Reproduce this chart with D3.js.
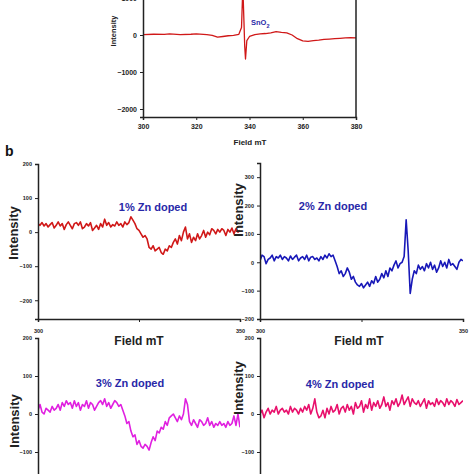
<!DOCTYPE html>
<html><head><meta charset="utf-8">
<script src="https://cdn.jsdelivr.net/npm/d3@7"></script>
<style>
body{margin:0;background:#fff}
text{font-family:"Liberation Sans",Arial,sans-serif;font-weight:bold}
</style></head>
<body><svg id="chart" width="474" height="474"></svg>
<script>
// SnO2 spectrum, [field mT, intensity]
const sno2 = [[300,10],[304,20],[308,15],[310,30],[314,10],[318,20],[320,30],[324,10],[326,-10],[328,-60],[330,-40],[332,-20],[334,-10],[336,20],[337,200],[337.5,1300],[337.9,400],[338.2,-300],[338.5,-650],[339,-150],[340,-40],[342,10],[344,30],[346,40],[348,60],[350,90],[352,70],[354,60],[356,0],[358,-100],[360,-160],[362,-170],[364,-150],[366,-140],[368,-120],[370,-110],[372,-100],[374,-90],[376,-80],[378,-70],[380,-80]];
// doped spectra sampled every 0.5 mT from 300 to 350
const fieldStart = 300, fieldStep = 0.5;
const zn1 = [25,20,28,18,25,15,22,28,12,20, 30,18,25,8,22,30,20,10,25,28, 20,30,10,15,25,18,28,5,12,20,
  8,25,15,38,20,28,15,22,18,30, 20,25,15,30,22,28,45,35,25,10, 5,-5,-15,-10,-20,-45,-50,-40,-55,-50,
  -45,-60,-65,-50,-55,-40,-45,-30,-20,-35, -10,-25,0,15,-20,-5,-30,-15,-25,-5, -20,-10,5,-15,0,-8,10,5,-5,8,
  0,10,5,-10,8,0,12,-5,10,0, 5];
const zn2 = [5,25,20,-5,10,15,25,5,20,15, 25,10,20,15,5,22,10,18,25,5, 15,20,10,25,5,18,20,10,15,5,
  20,10,25,15,30,20,25,5,-15,-40, -30,-50,-40,-20,-35,-60,-50,-70,-80,-85, -75,-90,-80,-70,-85,-65,-75,-50,-70,-60,
  -40,-55,-30,-50,-20,-30,-10,5,-20,-5, 0,20,150,40,-110,-60,-30,-40,-10,-25, -15,-30,-5,-20,0,-25,-10,-35,-20,5,
  -15,0,-20,10,-10,-5,-15,-25,0,10, 5];
const zn3 = [10,25,5,0,15,10,5,20,10,15, 25,10,30,20,35,25,30,15,35,20, 30,10,25,20,35,15,30,25,10,20,
  30,35,25,40,20,30,15,25,35,30, 20,25,10,-5,-25,-20,-45,-60,-55,-80, -70,-85,-90,-80,-85,-95,-75,-60,-70,-45,
  -50,-35,-40,-20,-30,-10,-5,0,-10,-20, -5,-15,0,40,25,-20,-30,-15,-25,-35, -15,-20,-30,-25,-10,-30,-20,-35,-25,-30,
  -20,-30,-25,-35,-20,-30,-25,-5,-30,0, -35];
const zn4 = [0,10,-10,5,15,0,10,5,20,0, 10,15,5,10,0,20,5,15,10,0, 15,5,20,10,25,0,15,40,5,-10,
  -5,10,-10,15,0,20,5,10,25,0, 15,20,5,25,10,20,0,30,15,20, 35,5,25,15,40,10,30,20,35,15,
  25,45,20,30,10,35,25,40,20,30, 50,25,35,45,20,40,30,25,35,20, 30,40,15,35,25,30,20,40,25,35,
  30,20,40,25,35,30,20,38,25,30, 35];
const topXTicks = [300,320,340,360,380];
const topYTicks = [-2000,-1000,0,1000];

const svg = d3.select('#chart');
let clipId = 0;

function panel(o) {
  const x = d3.scaleLinear().domain(o.xDomain).range([o.x0, o.x1]);
  const y = d3.scaleLinear().domain(o.yDomain).range([o.y1, o.y0]);
  const g = svg.append('g');
  const id = 'clip' + (clipId++);
  g.append('clipPath').attr('id', id).append('rect')
    .attr('x', o.x0).attr('y', o.y0).attr('width', o.x1 - o.x0).attr('height', o.y1 - o.y0);
  g.append('path').datum(o.data).attr('clip-path', `url(#${id})`)
    .attr('d', d3.line().x((d) => x(d[0])).y((d) => y(d[1])))
    .attr('fill', 'none').attr('stroke', o.color).attr('stroke-width', o.lw || 1.6)
    .attr('stroke-linejoin', 'round');
  const ax = g.append('g').attr('transform', `translate(0,${o.y1})`)
    .call(d3.axisBottom(x).tickValues(o.xTicks).tickFormat(o.xFormat || d3.format('d')).tickSize(3));
  const ay = g.append('g').attr('transform', `translate(${o.x0},0)`)
    .call(d3.axisLeft(y).tickValues(o.yTicks).tickSize(3).tickFormat(d3.format('d')));
  [ax, ay].forEach((a) => {
    a.select('.domain').attr('stroke', '#222').attr('stroke-width', 1.5);
    a.selectAll('.tick line').attr('stroke', '#222');
    a.selectAll('text').attr('font-size', o.fs).attr('fill', '#222');
  });
  ax.selectAll('text').attr('dy', o.xdy || '0.9em');
  if (o.box) {
    g.append('line').attr('x1', o.x1).attr('x2', o.x1).attr('y1', o.y0).attr('y2', o.y1)
      .attr('stroke', '#222').attr('stroke-width', 1.5);
  }
  return { x, y, g };
}

const toPairs = (vals) => vals.map((v, i) => [fieldStart + i * fieldStep, v]);

// top panel: SnO2
panel({ x0: 143, x1: 356, y0: -2, y1: 117, xDomain: [300, 380], yDomain: [-2216, 1000],
  data: sno2, color: '#d01818', xTicks: topXTicks, yTicks: topYTicks, fs: 7, box: true, lw: 1.3 });
svg.append('text').attr('x', 250).attr('y', 145).attr('text-anchor', 'middle').attr('font-size', 8).attr('fill', '#222').text('Field mT');
svg.append('text').attr('transform', 'translate(116,31) rotate(-90)').attr('text-anchor', 'middle').attr('font-size', 7.5).attr('fill', '#222').text('Intensity');
const sn = svg.append('text').attr('x', 251).attr('y', 25).attr('font-size', 7.5).attr('fill', '#2a2aa8');
sn.append('tspan').text('SnO');
sn.append('tspan').attr('font-size', 5.5).attr('dy', 2.5).text('2');

svg.append('text').attr('x', 5).attr('y', 156).attr('font-size', 14).attr('fill', '#111').text('b');

const edge = (v) => (v === 300 || v === 350 ? d3.format('d')(v) : '');
const small = { xDomain: [300, 350], xTicks: [300, 325, 350], xFormat: edge, fs: 5.5, xdy: '1.4em' };

panel(Object.assign({}, small, { x0: 38, x1: 240, y0: 164, y1: 319, yDomain: [-255, 200],
  data: toPairs(zn1), color: '#d01818', yTicks: [-200, -100, 0, 100, 200] }));
panel(Object.assign({}, small, { x0: 260, x1: 463, y0: 163, y1: 319, yDomain: [-200, 350],
  data: toPairs(zn2), color: '#1818b8', yTicks: [-200, -100, 0, 100, 200, 300] }));
panel(Object.assign({}, small, { x0: 38, x1: 240, y0: 338, y1: 490, yDomain: [-200, 200], xFormat: () => '',
  data: toPairs(zn3), color: '#e020e0', yTicks: [-100, 0, 100, 200] }));
panel(Object.assign({}, small, { x0: 260, x1: 463, y0: 338, y1: 490, yDomain: [-200, 200], xFormat: () => '',
  data: toPairs(zn4), color: '#e8106c', yTicks: [-100, 0, 100, 200] }));

const titles = [[153, 211, '1% Zn doped'], [333, 210, '2% Zn doped'], [130, 387, '3% Zn doped'], [340, 388, '4% Zn doped']];
titles.forEach(([tx, ty, t]) => svg.append('text').attr('x', tx).attr('y', ty).attr('text-anchor', 'middle')
  .attr('font-size', 11).attr('fill', '#2828a8').text(t));

const yTitles = [[13, 233], [238, 210], [14, 421], [238, 388]];
yTitles.forEach(([tx, ty]) => svg.append('text').attr('transform', `translate(${tx},${ty}) rotate(-90)`)
  .attr('text-anchor', 'middle').attr('dy', '0.35em').attr('font-size', 13).attr('fill', '#222').text('Intensity'));
[[139, 345], [359, 345]].forEach(([tx, ty]) => svg.append('text').attr('x', tx).attr('y', ty)
  .attr('text-anchor', 'middle').attr('font-size', 12).attr('fill', '#222').text('Field mT'));
</script></body></html>
